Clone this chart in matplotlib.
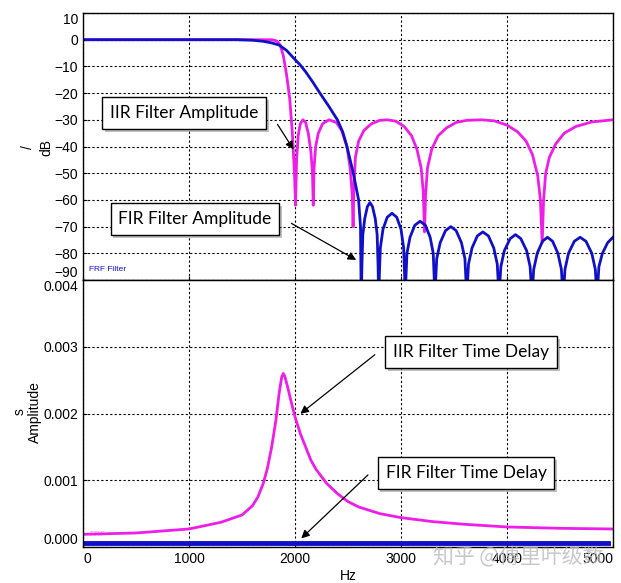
import matplotlib
matplotlib.use("Agg")
import matplotlib.pyplot as plt
import matplotlib.patheffects as pe

# ---- data ----
iir_f = [0, 1600, 1780, 1830, 1860, 1890, 1920, 1950, 1975, 1995, 2005,
         2015, 2030, 2050, 2075, 2100, 2125, 2150, 2165, 2172,
         2180, 2195, 2220, 2260, 2320, 2390, 2440, 2490, 2520, 2540, 2548,
         2556, 2570, 2600, 2650, 2720, 2800, 2870, 2950, 3030, 3100, 3150, 3190, 3210, 3222,
         3232, 3250, 3290, 3350, 3430, 3520, 3620, 3760, 3880, 4000, 4100, 4180, 4240, 4290, 4315, 4332,
         4345, 4365, 4400, 4460, 4540, 4650, 4800, 5000]
iir_db = [0, 0, 0, -0.5, -2, -6, -13, -22, -35, -50, -62,
          -45, -36, -31.5, -30, -31, -35, -42, -50, -62,
          -48, -40, -35, -31.5, -30, -31, -34, -40, -48, -58, -70,
          -55, -44, -38, -34, -31.5, -30.2, -30, -30.5, -32.5, -36, -41, -48, -57, -72,
          -58, -48, -41, -36, -33, -31, -30.2, -30, -30.4, -32, -34.5, -38, -43, -51, -60, -76,
          -60, -50, -44, -39, -35, -32.5, -30.8, -30]

fir_f = [0, 1450, 1600, 1700, 1780, 1850, 1920, 1990, 2050, 2100, 2170, 2235, 2320, 2400, 2450, 2490, 2550, 2600, 2618,
         2625, 2631, 2640, 2658, 2683, 2707, 2731, 2757, 2775, 2784, 2790,
         2796, 2805, 2830, 2870, 2915, 2960, 3000, 3025, 3034, 3040,
         3046, 3056, 3085, 3130, 3180, 3230, 3275, 3304, 3314, 3320,
         3326, 3337, 3370, 3420, 3470, 3520, 3570, 3603, 3614, 3620,
         3626, 3637, 3670, 3720, 3772, 3825, 3875, 3908, 3919, 3925,
         3931, 3942, 3975, 4030, 4080, 4130, 4185, 4218, 4229, 4235,
         4241, 4252, 4285, 4335, 4382, 4430, 4480, 4513, 4524, 4530,
         4536, 4547, 4580, 4635, 4690, 4745, 4800, 4833, 4844, 4850,
         4856, 4867, 4900, 4950, 5000]
fir_db = [0, 0, -0.2, -0.6, -1.2, -2, -4, -7, -9.5, -12, -16, -20, -25, -30, -34.5, -40, -50, -60, -70,
          -100, -85, -73, -67, -62.5, -61, -62.5, -67, -73, -85, -100,
          -88, -78, -71, -66.5, -65, -66.5, -71, -78, -88, -100,
          -90, -80, -74, -69.5, -68, -69.5, -74, -80, -90, -100,
          -91, -82, -76, -71.5, -70, -71.5, -76, -82, -91, -100,
          -92, -84, -78, -73.5, -72, -73.5, -78, -84, -92, -100,
          -92, -85, -79, -74.5, -73, -74.5, -79, -85, -92, -100,
          -93, -86, -80, -75.5, -74, -75.5, -80, -86, -93, -100,
          -93, -86, -80, -75.5, -74, -75.5, -80, -86, -93, -100,
          -92, -85, -80, -76, -74]

td_f = [0, 500, 1000, 1300, 1500, 1600, 1650, 1700, 1740, 1780, 1820, 1850, 1875, 1890, 1905,
        1930, 1960, 2000, 2050, 2100, 2150, 2200, 2300, 2400, 2500, 2600, 2800, 3000, 3300,
        3600, 4000, 4500, 5000]
iir_td = [0.00019, 0.00021, 0.00027, 0.00037, 0.00048, 0.00062, 0.00075, 0.00095, 0.00118,
          0.0015, 0.0019, 0.0023, 0.00255, 0.0026, 0.00255, 0.0024, 0.0022, 0.00195, 0.0017,
          0.0015, 0.0013, 0.00116, 0.00095, 0.0008, 0.00068, 0.0006, 0.0005, 0.00044, 0.00038,
          0.00034, 0.0003, 0.00028, 0.00027]
fir_td_f = [0, 4950]
fir_td = [0.00006, 0.00006]

db_ticks = [10, 0, -10, -20, -30, -40, -50, -60, -70, -80, -90]
td_ticks = [0.0, 0.001, 0.002, 0.003, 0.004]
td_labels = ["0.000", "0.001", "0.002", "0.003", "0.004"]
hz_ticks = [0, 1000, 2000, 3000, 4000, 5000]

MAG = "#EE1EE8"
BLU = "#1010C8"
plt.rcParams["font.family"] = "Liberation Sans"

fig = plt.figure(figsize=(6.21, 5.83), dpi=100)
W, H = 621, 583
def rect(x0, y0, x1, y1):
    return [x0 / W, 1 - y1 / H, (x1 - x0) / W, (y1 - y0) / H]

ax1 = fig.add_axes(rect(83, 13, 613, 280))
ax2 = fig.add_axes(rect(83, 280, 613, 547))

for ax in (ax1, ax2):
    ax.set_xlim(0, 5000)
    ax.set_xticks(hz_ticks)
    ax.grid(True, color="black", linestyle=(0, (2, 2)), linewidth=0.8)
    ax.tick_params(labelsize=10, direction="in", length=3)
    for s in ax.spines.values():
        s.set_linewidth(1.0)

ax1.plot(iir_f, iir_db, color=MAG, lw=2)
ax1.plot(fir_f, fir_db, color=BLU, lw=2)
ax1.set_ylim(-90, 10)
ax1.set_yticks(db_ticks)
ax1.tick_params(labelbottom=False)
labs = ax1.get_yticklabels()
labs[0].set_va("top")
labs[-1].set_va("bottom")
ax1.text(0.012, 0.035, "FRF Filter", transform=ax1.transAxes, color=BLU, fontsize=6)

ax2.plot(td_f, iir_td, color=MAG, lw=2)
ax2.plot(fir_td_f, fir_td, color=BLU, lw=3.5)
ax2.set_ylim(0, 0.004)
ax2.set_yticks(td_ticks)
ax2.set_yticklabels(td_labels)
labs = ax2.get_yticklabels()
labs[0].set_va("bottom")
labs[-1].set_va("top")
xl = ax2.get_xticklabels()
xl[0].set_ha("left")
xl[-1].set_ha("right")
ax2.text(0.012, 0.04, "FRF", transform=ax2.transAxes, color=MAG, fontsize=6, alpha=0.5)
ax2.set_xlabel("Hz", fontsize=10, labelpad=2)

fig.text(28 / W, 1 - 147 / H, "/", rotation=90, fontsize=10, ha="center", va="center")
fig.text(46 / W, 1 - 147 / H, "dB", rotation=90, fontsize=10, ha="center", va="center")
fig.text(20 / W, 1 - 412 / H, "s", rotation=90, fontsize=10, ha="center", va="center")
fig.text(35 / W, 1 - 412 / H, "Amplitude", rotation=90, fontsize=10, ha="center", va="center")

box = dict(boxstyle="square,pad=0.45", fc="white", ec="black", lw=1,
           path_effects=[pe.withSimplePatchShadow(offset=(2, -2), alpha=0.35)])
arrow = dict(arrowstyle="-|>", color="black", lw=0.9, mutation_scale=12)

def ann(text, tx, ty, ax_, xy, sx, sy):
    ax_.annotate("", xy=xy, xycoords="data", xytext=(sx / W, 1 - sy / H),
                 textcoords="figure fraction", arrowprops=arrow)
    fig.text(tx / W, 1 - ty / H, text, fontsize=12.5, family="Lato",
             ha="center", va="center", bbox=box)

ann("IIR Filter Amplitude", 184, 113, ax1, (2000, -42), 276, 122)
ann("FIR Filter Amplitude", 195, 219, ax1, (2600, -83), 289, 222)
ann("IIR Filter Time Delay", 471, 352, ax2, (2030, 0.00197), 377, 353)
ann("FIR Filter Time Delay", 466, 473, ax2, (2040, 0.0001), 370, 473)

fig.text(518 / W, 1 - 557 / H, "知乎 @傅里叶级数", fontsize=15, color="#bbbbbb", alpha=0.8,
         family="Noto Sans CJK SC", ha="center", va="center")

fig.savefig("out.png", dpi=100)
